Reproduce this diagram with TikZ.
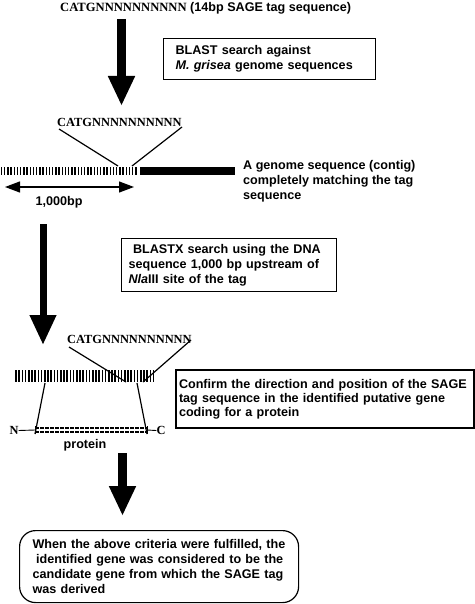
\documentclass[tikz,border=0pt]{standalone}
\usepackage{fontspec}
\setmainfont{Liberation Sans}
\newfontfamily\serifdna{Liberation Serif}
\usetikzlibrary{arrows.meta}
\begin{document}
\begin{tikzpicture}[x=1pt,y=-1pt,
  every node/.style={font=\fontsize{12.6}{15}\selectfont\bfseries, inner sep=0pt},
  dna/.style={font=\fontsize{12.4}{15}\selectfont\bfseries\serifdna},
  box/.style={draw, line width=1.2pt, align=left, anchor=north west, inner ysep=0pt},
  bigarrow/.style={line width=#1, -{Triangle[length=30pt,width=25pt]}},
  conn/.style={line width=1.2pt},
  stripe/.style={line width=1.5pt},
  pline/.style={line width=0.9pt},
  pdash/.style={line width=1.3pt, dash pattern=on 3.5pt off 1.5pt}]
\useasboundingbox (0,0) rectangle (474,604);

% top tag
\node[anchor=base west] (tag1) at (60,11.5) {{\serifdna CATGNNNNNNNNNN} (14bp SAGE tag sequence)};

% arrow 1
\coordinate (a1s) at (121.5,19);
\coordinate (a1e) at (121.5,106);
\draw[bigarrow=9pt] (a1s) -- (a1e);

% box 1
\node[box, minimum width=212pt, minimum height=41pt, text width=188pt, inner xsep=12pt] (b1) at (163,38)
  {BLAST search against\\\textit{M. grisea} genome sequences};

% tag 2 and genome bar
\node[dna, anchor=base west] (tag2) at (57,127) {CATGNNNNNNNNNN};
\coordinate (t2l) at (59,129); \coordinate (t2r) at (182,127);
\coordinate (g1l) at (118,166); \coordinate (g1r) at (132,166);
\draw[conn] (t2l) -- (g1l);
\draw[conn] (t2r) -- (g1r);
\foreach \x in {1.5,4.7,...,139} \draw[stripe] (\x,167) -- (\x,174.5);
\fill (140,167) rectangle (235,174.5);

% 1,000 bp
\coordinate (d1) at (5,187); \coordinate (d2) at (134,187);
\draw[line width=1.2pt, {Triangle[length=15pt,width=11pt]}-{Triangle[length=15pt,width=11pt]}] (d1) -- (d2);
\node (bp) at (59,202) {1,000bp};

% genome text
\node[anchor=north west, align=left] (gtxt) at (243,160)
  {A genome sequence (contig)\\completely matching the tag\\sequence};

% arrow 2
\coordinate (a2s) at (43,224);
\coordinate (a2e) at (43,345);
\draw[bigarrow=7pt] (a2s) -- (a2e);

% box 2
\node[box, minimum width=215pt, minimum height=53pt, text width=201pt, inner xsep=7pt] (b2) at (121,238)
  {\hspace{4.5pt}BLASTX search using the DNA\\sequence 1,000 bp upstream of\\\textit{Nla}III site of the tag};

% tag 3 and gene bar
\node[dna, anchor=base west] (tag3) at (67,343) {CATGNNNNNNNNNN};
\coordinate (t3l) at (69,347); \coordinate (t3r) at (191,340);
\coordinate (g2l) at (126,382); \coordinate (g2r) at (143,382);
\draw[conn] (t3l) -- (g2l);
\draw[conn] (t3r) -- (g2r);
\foreach \x in {16,19.2,...,155} \draw[stripe] (\x,370) -- (\x,382);

% protein
\coordinate (u1) at (45,383); \coordinate (u2) at (137,383);
\coordinate (pl) at (35,430); \coordinate (pr) at (147,430);
\draw[conn] (u1) -- ([yshift=-4pt]pl);
\draw[conn] (u2) -- ([yshift=-4pt]pr);
\node[dna] (N) at (14,430.5) {N};
\node[dna] (C) at (161,430.5) {C};
\draw[pline] (N.east) -- (pl);
\draw[pline] (pr) -- (C.west);
\draw[pdash] ([yshift=-2pt]pl) -- ([yshift=-2pt]pr);
\draw[pdash] ([yshift=2pt]pl) -- ([yshift=2pt]pr);
\draw[pline] ([yshift=-4pt]pl) -- ([yshift=4pt]pl);
\draw[pline] ([yshift=-4pt]pr) -- ([yshift=4pt]pr);
\node (prot) at (85,445) {protein};

% box 3
\node[box, line width=2pt, minimum width=298pt, minimum height=58pt, text width=292pt, inner xsep=3pt,
  font=\fontsize{12.6}{14}\selectfont\bfseries] (b3) at (175,369)
  {Confirm the direction and position of the SAGE\\tag sequence in the identified putative gene\\coding for a protein};

% arrow 3
\coordinate (a3s) at (122.5,453);
\coordinate (a3e) at (122.5,516);
\draw[bigarrow=9pt] (a3s) -- (a3e);

% final box
\node[box, rounded corners=16pt, minimum width=279pt, minimum height=72pt, text width=253pt, inner xsep=13pt] (b4) at (19,530)
  {When the above criteria were fulfilled, the\\\hspace{3.5pt}identified gene was considered to be the\\candidate gene from which the SAGE tag\\was derived};
\end{tikzpicture}
\end{document}
